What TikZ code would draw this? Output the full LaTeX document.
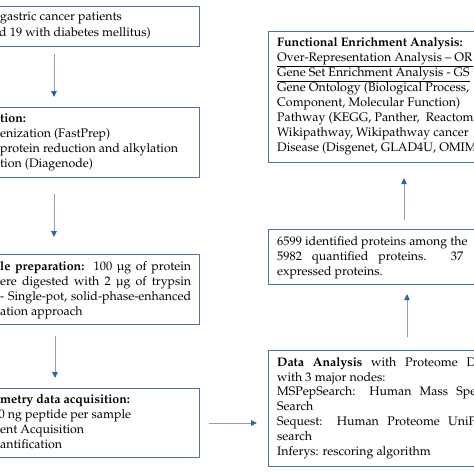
\documentclass[tikz,border=0pt]{standalone}
\usepackage[T1]{fontenc}
\usepackage{mathpazo}
\usetikzlibrary{arrows.meta}
\definecolor{boxc}{RGB}{84,115,158}
\definecolor{arrc}{RGB}{140,160,190}
\definecolor{tipc}{RGB}{45,100,170}
\newcommand{\fsz}{\fontsize{12.4}{15}\selectfont}
\tikzset{
  box/.style={draw=boxc, line width=1.1pt, inner sep=0pt, fill=white, minimum width=350pt},
  txt/.style={inner sep=0pt, anchor=base west, font=\fsz, text=black},
  arr/.style={draw=arrc, line width=1pt, -{Triangle[length=6pt,width=5.5pt,color=tipc]}}
}
\begin{document}
\begin{tikzpicture}[x=1pt,y=-1pt]
\useasboundingbox (0,0) rectangle (474,474);
\fill[white] (0,0) rectangle (474,474);
\clip (0,0) rectangle (474,474);
% left column boxes
\node[box, minimum height=40pt, anchor=north east] (b1) at (200,6) {};
\node[box, minimum height=70pt, anchor=north east] (b2) at (200,107) {};
\node[box, minimum height=70pt, anchor=north east] (b3) at (200,254) {};
\node[box, minimum height=69pt, anchor=north east] (b4) at (200,388) {};
% right column boxes
\node[box, minimum height=131pt, anchor=north west] (r1) at (268,31) {};
\node[box, minimum height=55pt, anchor=north west] (r2) at (268,229) {};
\node[box, minimum height=116pt, anchor=north west] (r3) at (268,350) {};
% texts left
\node[txt] (t11) at (0,20) {gastric cancer patients};
\node[txt] (t12) at (-1,36) {d 19 with diabetes mellitus)};
\node[txt] (t21) at (0,122) {\textbf{tion:}};
\node[txt] (t22) at (0,137) {enization (FastPrep)};
\node[txt] (t23) at (0,152) {protein reduction and alkylation};
\node[txt] (t24) at (0,167) {tion (Diagenode)};
\node[txt] (t31) at (0,270) {\makebox[191pt][s]{\textbf{le preparation:}\ \ 100 \textmu g of protein}};
\node[txt] (t32) at (0,285) {\makebox[191pt][s]{ere digested with 2 \textmu g of trypsin}};
\node[txt] (t33) at (0,300) {\makebox[191pt][s]{- Single-pot, solid-phase-enhanced}};
\node[txt] (t34) at (0,315) {ation approach};
\node[txt] (t41) at (0,403) {\textbf{metry data acquisition:}};
\node[txt] (t42) at (-1.5,418) {0 ng peptide per sample};
\node[txt] (t43) at (0,433) {ent Acquisition};
\node[txt] (t44) at (0,448) {antification};
% texts right
\node[txt] (u11) at (277,46) {\textbf{Functional Enrichment Analysis:}};
\node[txt] (u12) at (277,61) {\underline{Over-Representation Analysis -- OR}};
\node[txt] (u13) at (277,76) {\underline{Gene Set Enrichment Analysis - GS}};
\node[txt] (u14) at (277,91) {Gene Ontology (Biological Process,};
\node[txt] (u15) at (277,106) {Component, Molecular Function)};
\node[txt] (u16) at (277,121) {Pathway (KEGG, Panther,\ \ Reactom};
\node[txt] (u17) at (277,136) {Wikipathway, Wikipathway cancer};
\node[txt] (u18) at (277,151) {Disease (Disgenet, GLAD4U, OMIM};
\node[txt] (u21) at (277,245) {6599 identified proteins among the};
\node[txt] (u22) at (277,260) {\makebox[186pt][s]{5982 quantified proteins. 37}};
\node[txt] (u23) at (277,275) {expressed proteins.};
\node[txt] (u31) at (277,366) {\makebox[199pt][s]{\textbf{Data Analysis} with Proteome D}};
\node[txt] (u32) at (277,381) {with 3 major nodes:};
\node[txt] (u33) at (277,395) {\makebox[199pt][s]{MSPepSearch: Human Mass Spe}};
\node[txt] (u34) at (277,410) {Search};
\node[txt] (u35) at (277,425) {\makebox[199pt][s]{Sequest: Human Proteome UniP}};
\node[txt] (u36) at (277,440) {search};
\node[txt] (u37) at (277,455) {Inferys: rescoring algorithm};
% arrows
\coordinate (ax1) at (54,0);
\coordinate (ax3) at (55,0);
\coordinate (ax4) at (404,0);
\coordinate (ax5) at (407,0);
\coordinate (ah) at (0,423);
\draw[arr, shorten <=7pt, shorten >=10pt] (b1.south -| ax1) -- (b2.north -| ax1);
\draw[arr, shorten <=16pt, shorten >=17pt] (b2.south -| ax1) -- (b3.north -| ax1);
\draw[arr, shorten <=11pt, shorten >=10pt] (b3.south -| ax3) -- (b4.north -| ax3);
\draw[arr, shorten <=9pt, shorten >=11pt] (b4.east |- ah) -- (r3.west |- ah);
\draw[arr, shorten <=13pt, shorten >=9pt] (r3.north -| ax5) -- (r2.south -| ax5);
\draw[arr, shorten <=9pt, shorten >=15pt] (r2.north -| ax4) -- (r1.south -| ax4);
\end{tikzpicture}
\end{document}
